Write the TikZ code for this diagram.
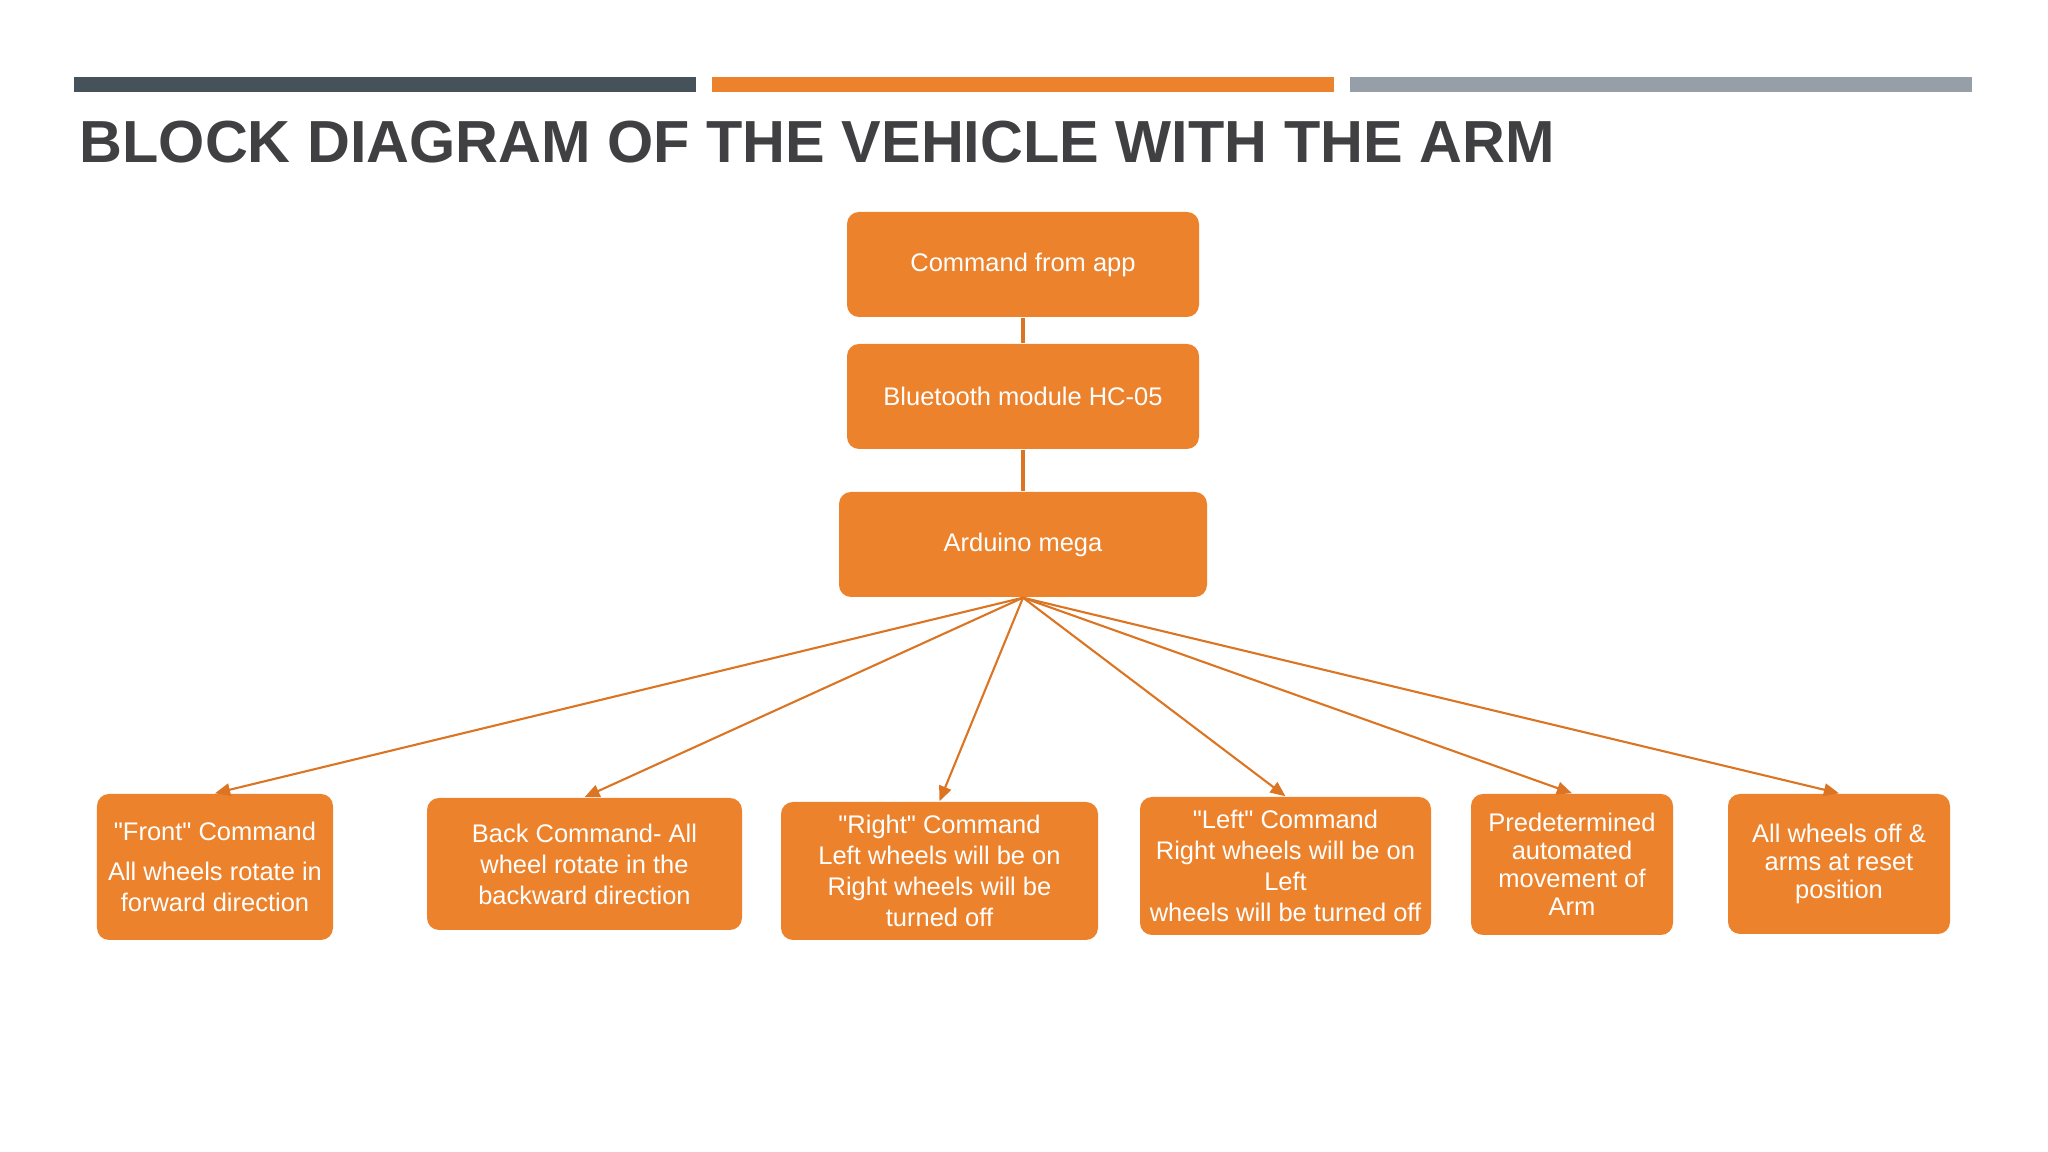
\documentclass[tikz,border=0pt]{standalone}
\usepackage{fontspec}
\setmainfont{Liberation Sans}[Ligatures=TeXOff]
\usepackage{tikz}
\usetikzlibrary{arrows.meta,positioning}
\definecolor{boxorange}{RGB}{237,130,44}
\definecolor{lineorange}{RGB}{220,117,35}
\definecolor{bardark}{RGB}{69,82,89}
\definecolor{bargray}{RGB}{150,159,167}
\definecolor{titlegray}{RGB}{64,64,66}

\begin{document}
\begin{tikzpicture}[
        block/.style={fill=boxorange, rounded corners=0.12cm, text=white, align=center, inner sep=0pt,
          font=\fontsize{7.25}{8.8}\selectfont},
        tight/.style={font=\fontsize{7.25}{8.0}\selectfont},
        link/.style={draw=lineorange, line width=1.1pt},
        feed/.style={draw=lineorange, line width=0.6pt, -{Triangle[length=4.3pt,width=3.6pt]}}]
        \useasboundingbox (0,0) rectangle (20.48,11.52);
        %Bars
        \fill[bardark] (0.74,10.60) rectangle (6.96,10.75);
        \fill[boxorange] (7.12,10.60) rectangle (13.34,10.75);
        \fill[bargray] (13.50,10.60) rectangle (19.72,10.75);
        %Title
        \node[anchor=base west, inner sep=0pt, text=titlegray, font=\bfseries\fontsize{16.9}{20}\selectfont]
          (title) at (0.79,9.89) {BLOCK DIAGRAM OF THE VEHICLE WITH THE ARM};
        %Chain
        \node[block, minimum width=3.52cm, minimum height=1.05cm] (cmd) at (10.23,8.875) {Command from app};
        \node[block, minimum width=3.52cm, minimum height=1.05cm] (bt) at (10.23,7.555) {Bluetooth module HC-05};
        \node[block, minimum width=3.68cm, minimum height=1.05cm] (mega) at (10.23,6.075) {Arduino mega};
        %Commands
        \node[block, minimum width=2.36cm, minimum height=1.46cm] (front) at (2.15,2.85)
          {"Front" Command\\[2.5pt] All wheels rotate in\\forward direction};
        \node[block, minimum width=3.15cm, minimum height=1.32cm] (back) at (5.845,2.88)
          {Back Command- All\\wheel rotate in the\\backward direction};
        \node[block, minimum width=3.17cm, minimum height=1.38cm] (right) at (9.395,2.81)
          {"Right" Command\\Left wheels will be on\\Right wheels will be\\turned off};
        \node[block, minimum width=2.91cm, minimum height=1.38cm] (left) at (12.855,2.86)
          {"Left" Command\\Right wheels will be on\\Left\\wheels will be turned off};
        \node[block, tight, minimum width=2.02cm, minimum height=1.41cm] (auto) at (15.72,2.875)
          {Predetermined\\automated\\movement of\\Arm};
        \node[block, tight, minimum width=2.22cm, minimum height=1.40cm] (reset) at (18.39,2.88)
          {All wheels off \&\\arms at reset\\position};
        %Links
        \draw[link] (cmd) -- (bt);
        \draw[link] (bt) -- (mega);
        \foreach \t in {front,back,right,left,auto,reset}
          \draw[feed] (mega.south) -- (\t.north);
      \end{tikzpicture}
\end{document}
